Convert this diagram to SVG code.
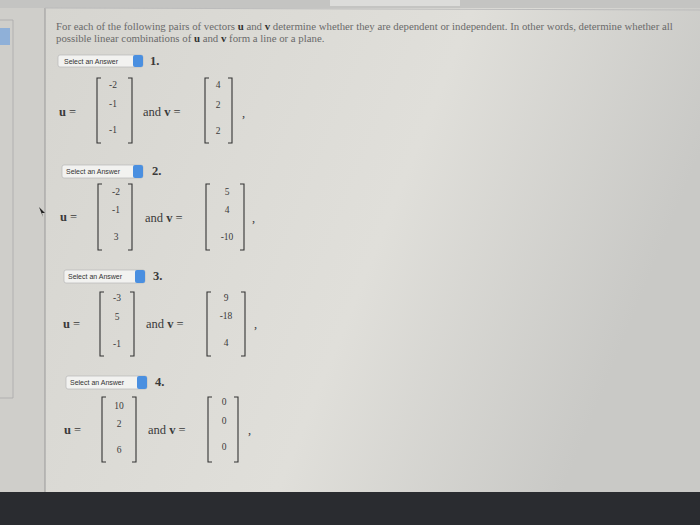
<svg xmlns="http://www.w3.org/2000/svg" width="700" height="525" viewBox="0 0 700 525">
<defs>
<linearGradient id="bg" x1="0" y1="0" x2="1" y2="0.3">
<stop offset="0" stop-color="#d6d5d0"/><stop offset="0.6" stop-color="#e0dfda"/><stop offset="1" stop-color="#c9c9c6"/>
</linearGradient>
<style>
.t{font-family:"Liberation Serif",serif;fill:#3a3a3a}
.h{font-size:10.8px;fill:#6a6a6a}
.m{font-size:12.5px}
.n{font-size:9.5px;text-anchor:middle}
.sel rect.b{fill:#f2f2f0;stroke:#b8b8b8;stroke-width:0.7}
.sel rect.k{fill:#4a8fe0}
.sel text{font-family:"Liberation Sans",sans-serif;font-size:7px;fill:#333}
.br{fill:none;stroke:#333;stroke-width:1.1}
</style>
</defs>
<rect width="700" height="525" fill="#cfceca"/>
<rect x="45" y="8" width="655" height="484" fill="url(#bg)"/>
<rect x="0" y="0" width="700" height="8" fill="#c4c4c2"/>
<rect x="330" y="0" width="130" height="6" fill="#dcdcda"/>
<line x1="45" y1="8" x2="45" y2="492" stroke="#999" stroke-width="1"/>
<line x1="45" y1="8" x2="700" y2="10" stroke="#bbb" stroke-width="1"/>
<rect x="0" y="28" width="10" height="17" fill="#8fb0d8"/>
<path d="M0 20 H13 V398 H0" fill="none" stroke="#aaa" stroke-width="0.8"/>
<rect x="0" y="492" width="700" height="33" fill="#2a2c30"/>
<text class="t h" x="56" y="30">For each of the following pairs of vectors <tspan font-weight="bold" fill="#333">u</tspan> and <tspan font-weight="bold" fill="#333">v</tspan> determine whether they are dependent or independent. In other words, determine whether all</text>
<text class="t h" x="56" y="42">possible linear combinations of <tspan font-weight="bold" fill="#333">u</tspan> and <tspan font-weight="bold" fill="#333">v</tspan> form a line or a plane.</text>

<g id="q1">
<g class="sel"><rect class="b" x="58" y="55" width="85" height="12" rx="2"/><rect class="k" x="133" y="55" width="10" height="12" rx="2"/><text x="64" y="64">Select an Answer</text></g>
<text class="t m" x="150" y="65" font-weight="bold">1.</text>
<text class="t m" x="59" y="116"><tspan font-weight="bold">u</tspan> =</text>
<path class="br" d="M101 78 H97 V143 H101 M128 78 H132 V143 H128"/>
<text class="t n" x="113" y="88">-2</text><text class="t n" x="113" y="107">-1</text><text class="t n" x="113" y="133">-1</text>
<text class="t m" x="143" y="116">and <tspan font-weight="bold">v</tspan> =</text>
<path class="br" d="M209 78 H205 V143 H209 M228 78 H232 V143 H228"/>
<text class="t n" x="218" y="88">4</text><text class="t n" x="218" y="108">2</text><text class="t n" x="218" y="134">2</text>
<text class="t m" x="242" y="117">,</text>
</g>

<g id="q2">
<g class="sel"><rect class="b" x="62" y="165" width="81" height="13" rx="2"/><rect class="k" x="133" y="165" width="10" height="13" rx="2"/><text x="66" y="174">Select an Answer</text></g>
<text class="t m" x="152" y="175" font-weight="bold">2.</text>
<path d="M39 207 L45 213 L42 213 L43 217 Z" fill="#222"/>
<text class="t m" x="60" y="221"><tspan font-weight="bold">u</tspan> =</text>
<path class="br" d="M102 184 H98 V250 H102 M128 184 H132 V250 H128"/>
<text class="t n" x="116" y="195">-2</text><text class="t n" x="116" y="213">-1</text><text class="t n" x="116" y="240">3</text>
<text class="t m" x="145" y="222">and <tspan font-weight="bold">v</tspan> =</text>
<path class="br" d="M210 184 H206 V250 H210 M240 184 H244 V250 H240"/>
<text class="t n" x="227" y="195">5</text><text class="t n" x="227" y="213">4</text><text class="t n" x="227" y="240">-10</text>
<text class="t m" x="252" y="222">,</text>
</g>

<g id="q3">
<g class="sel"><rect class="b" x="64" y="270" width="81" height="13" rx="2"/><rect class="k" x="135" y="270" width="10" height="13" rx="2"/><text x="68" y="279">Select an Answer</text></g>
<text class="t m" x="153" y="280" font-weight="bold">3.</text>
<text class="t m" x="63" y="328"><tspan font-weight="bold">u</tspan> =</text>
<path class="br" d="M104 292 H100 V356 H104 M130 292 H134 V356 H130"/>
<text class="t n" x="117" y="301">-3</text><text class="t n" x="117" y="320">5</text><text class="t n" x="117" y="347">-1</text>
<text class="t m" x="146" y="328">and <tspan font-weight="bold">v</tspan> =</text>
<path class="br" d="M211 292 H207 V356 H211 M241 292 H245 V356 H241"/>
<text class="t n" x="226" y="301">9</text><text class="t n" x="226" y="319">-18</text><text class="t n" x="226" y="346">4</text>
<text class="t m" x="254" y="328">,</text>
</g>

<g id="q4">
<g class="sel"><rect class="b" x="66" y="376" width="81" height="13" rx="2"/><rect class="k" x="137" y="376" width="10" height="13" rx="2"/><text x="70" y="385">Select an Answer</text></g>
<text class="t m" x="155" y="386" font-weight="bold">4.</text>
<text class="t m" x="64" y="434"><tspan font-weight="bold">u</tspan> =</text>
<path class="br" d="M106 397 H102 V462 H106 M132 397 H136 V462 H132"/>
<text class="t n" x="119" y="409">10</text><text class="t n" x="119" y="427">2</text><text class="t n" x="119" y="453">6</text>
<text class="t m" x="148" y="434">and <tspan font-weight="bold">v</tspan> =</text>
<path class="br" d="M212 397 H208 V462 H212 M234 397 H238 V462 H234"/>
<text class="t n" x="224" y="405">0</text><text class="t n" x="224" y="424">0</text><text class="t n" x="224" y="450">0</text>
<text class="t m" x="248" y="434">,</text>
</g>
</svg>
